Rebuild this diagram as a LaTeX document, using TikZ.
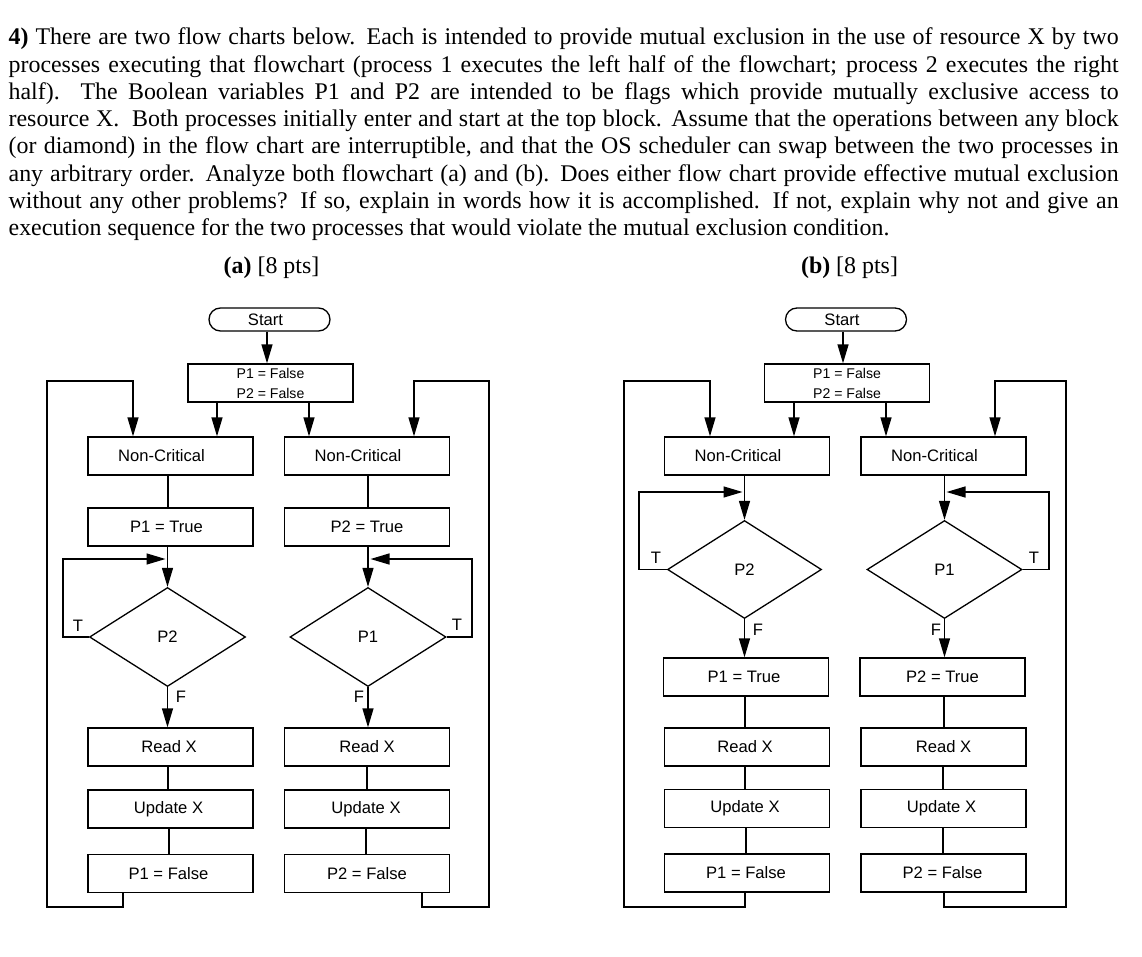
\documentclass[tikz,border=0pt]{standalone}
\usepackage{fontspec}
\setmainfont{Liberation Serif}
\newfontfamily\arialf{Liberation Sans}
\usetikzlibrary{shapes.geometric,arrows.meta}
\newcommand{\padR}[1]{\kern#1}
\newcommand{\ncText}{Non-Critical\padR{18pt}}
\begin{document}
\begin{tikzpicture}[x=1pt,y=-1pt,
  every path/.style={line width=1.3pt},
  box/.style={draw, line width=1.3pt, minimum width=165pt, minimum height=38pt, inner sep=0pt,
    font=\arialf\fontsize{16.6}{18}\selectfont},
  initbox/.style={box, align=center, font=\arialf\fontsize{14.1}{20}\selectfont},
  startbox/.style={draw, line width=1.3pt, rounded corners=11.5pt, minimum width=121pt, minimum height=23pt,
    inner sep=0pt, font=\arialf\fontsize{16.6}{18}\selectfont},
  dec/.style={draw, diamond, line width=1.3pt, minimum width=156pt, minimum height=99pt, inner sep=0pt,
    font=\arialf\fontsize{16.6}{18}\selectfont},
  lbl/.style={inner sep=0pt, font=\arialf\fontsize{16.6}{18}\selectfont},
  arr/.style={-{Triangle[length=19pt,width=11pt]}},
  txt/.style={anchor=base west, inner sep=0pt, font=\fontsize{23.9}{27}\selectfont}
]
\useasboundingbox (0,0) rectangle (1142,957);
\fill[white] (0,0) rectangle (1142,957);

% ---- question text ----
\node[txt] (l1) at (8,45)    {\hbox to 1110pt{\textbf{4)} There are two flow charts below.  Each is intended to provide mutual exclusion in the use of resource X by two}};
\node[txt] (l2) at (8,72.25) {\hbox to 1110pt{processes executing that flowchart (process 1 executes the left half of the flowchart; process 2 executes the right}};
\node[txt] (l3) at (8,99.5)  {\hbox to 1110pt{half).  The Boolean variables P1 and P2 are intended to be flags which provide mutually exclusive access to}};
\node[txt] (l4) at (8,126.75){\hbox to 1110pt{resource X.\ \ Both processes initially enter and start at the top block.  Assume that the operations between any block}};
\node[txt] (l5) at (8,154)   {\hbox to 1110pt{(or diamond) in the flow chart are interruptible, and that the OS scheduler can swap between the two processes in}};
\node[txt] (l6) at (8,181.25){\hbox to 1110pt{any arbitrary order.  Analyze both flowchart (a) and (b).  Does either flow chart provide effective mutual exclusion}};
\node[txt] (l7) at (8,208.5) {\hbox to 1110pt{without any other problems?  If so, explain in words how it is accomplished.  If not, explain why not and give an}};
\node[txt] (l8) at (8,235.75){execution sequence for the two processes that would violate the mutual exclusion condition.};
\node[txt, anchor=base] (ha) at (271.5,274) {\textbf{(a)} [8 pts]};
\node[txt, anchor=base] (hb) at (849.5,274) {\textbf{(b)} [8 pts]};

% ================= chart (a) =================
\node[startbox] (startA) at (269.5,319.5) {Start\padR{8pt}};
\node[initbox] (initA) at (270.5,383) {P1 = False\\P2 = False};
\node[box] (ncA1) at (170.5,456) {\ncText};
\node[box] (ncA2) at (367,456) {\ncText};
\node[box] (ptA1) at (170.5,527) {P1 = True\padR{8pt}};
\node[box] (ptA2) at (367,527) {P2 = True};
\node[dec] (dA1) at (167.5,637) {P2};
\node[dec] (dA2) at (368,637) {P1};
\node[box] (rxA1) at (170.5,747) {Read X\padR{3pt}};
\node[box] (rxA2) at (367,747) {Read X};
\node[box] (uxA1) at (170.5,809) {Update X\padR{4pt}};
\node[box] (uxA2) at (367,809) {Update X\padR{2pt}};
\node[box] (pfA1) at (170.5,873.5) {P1 = False\padR{4pt}};
\node[box] (pfA2) at (367,873.5) {P2 = False};

\draw[arr] (startA.south -| 267,0) -- (initA.north -| 267,0);
\draw[arr] (initA.south -| 217,0) -- (ncA1.north -| 217,0);
\draw[arr] (initA.south -| 309,0) -- (ncA2.north -| 309,0);
\draw (ncA1.south -| 168,0) -- (ptA1.north -| 168,0);
\draw (ncA2.south -| 368,0) -- (ptA2.north -| 368,0);
\draw[arr] (ptA1.south -| dA1.north) -- (dA1.north);
\draw[arr] (ptA2.south -| dA2.north) -- (dA2.north);
\draw[arr] (dA1.west) -- (63,637) -- (63,559) -- (165.5,559);
\draw[arr] (dA2.east) -- (472,637) -- (472,559) -- (370.5,559);
\node[lbl] (tA1) at (78,626) {T};
\node[lbl] (tA2) at (457,625) {T};
\draw[arr] (dA1.south) -- (dA1.south |- rxA1.north);
\draw[arr] (dA2.south) -- (dA2.south |- rxA2.north);
\node[lbl] (fA1) at (181,697) {F};
\node[lbl] (fA2) at (359,697) {F};
\draw (rxA1.south -| 168,0) -- (uxA1.north -| 168,0);
\draw (uxA1.south -| 169,0) -- (pfA1.north -| 169,0);
\draw (rxA2.south -| 367,0) -- (uxA2.north -| 367,0);
\draw (uxA2.south -| 366,0) -- (pfA2.north -| 366,0);
\draw[arr] (pfA1.south -| 123,0) -- (123,907) -- (47,907) -- (47,381) -- (133,381) -- (ncA1.north -| 133,0);
\draw[arr] (pfA2.south -| 422,0) -- (422,907) -- (489,907) -- (489,381) -- (414,381) -- (ncA2.north -| 414,0);

% ================= chart (b) =================
\node[startbox] (startB) at (846,319.5) {Start\padR{8pt}};
\node[initbox] (initB) at (847,383) {P1 = False\\P2 = False};
\node[box] (ncB1) at (747,456) {\ncText};
\node[box] (ncB2) at (943.5,456) {\ncText};
\node[dec, minimum width=154pt, minimum height=98pt] (dB1) at (744.5,569.5) {P2};
\node[dec, minimum width=155pt, minimum height=98pt] (dB2) at (944.5,569.5) {P1};
\node[box] (ptB1) at (746,677) {P1 = True\padR{4pt}};
\node[box] (ptB2) at (942.5,677) {P2 = True};
\node[box] (rxB1) at (747,747) {Read X\padR{4pt}};
\node[box] (rxB2) at (943.5,747) {Read X};
\node[box] (uxB1) at (747,808.5) {Update X\padR{4pt}};
\node[box] (uxB2) at (943.5,808.5) {Update X\padR{4pt}};
\node[box] (pfB1) at (747,873) {P1 = False\padR{2pt}};
\node[box] (pfB2) at (943.5,873) {P2 = False\padR{2pt}};

\draw[arr] (startB.south -| 843,0) -- (initB.north -| 843,0);
\draw[arr] (initB.south -| 794,0) -- (ncB1.north -| 794,0);
\draw[arr] (initB.south -| 886,0) -- (ncB2.north -| 886,0);
\draw[arr] (ncB1.south -| dB1.north) -- (dB1.north);
\draw[arr] (ncB2.south -| dB2.north) -- (dB2.north);
\draw[arr] (dB1.west) -- (639,569.5) -- (639,492) -- (742.5,492);
\draw[arr] (dB2.east) -- (1049,569.5) -- (1049,492) -- (946.5,492);
\node[lbl] (tB1) at (656,558) {T};
\node[lbl] (tB2) at (1034,558) {T};
\draw[arr] (dB1.south) -- (dB1.south |- ptB1.north);
\draw[arr] (dB2.south) -- (dB2.south |- ptB2.north);
\node[lbl] (fB1) at (758,630) {F};
\node[lbl] (fB2) at (936,630) {F};
\draw (ptB1.south -| 745,0) -- (rxB1.north -| 745,0);
\draw (rxB1.south -| 745,0) -- (uxB1.north -| 745,0);
\draw (uxB1.south -| 746,0) -- (pfB1.north -| 746,0);
\draw (ptB2.south -| 944,0) -- (rxB2.north -| 944,0);
\draw (rxB2.south -| 943,0) -- (uxB2.north -| 943,0);
\draw (uxB2.south -| 943,0) -- (pfB2.north -| 943,0);
\draw[arr] (pfB1.south -| 745,0) -- (745,907) -- (624,907) -- (624,381) -- (710,381) -- (ncB1.north -| 710,0);
\draw[arr] (pfB2.south -| 944,0) -- (944,907) -- (1066,907) -- (1066,381) -- (995,381) -- (ncB2.north -| 995,0);
\end{tikzpicture}
\end{document}
